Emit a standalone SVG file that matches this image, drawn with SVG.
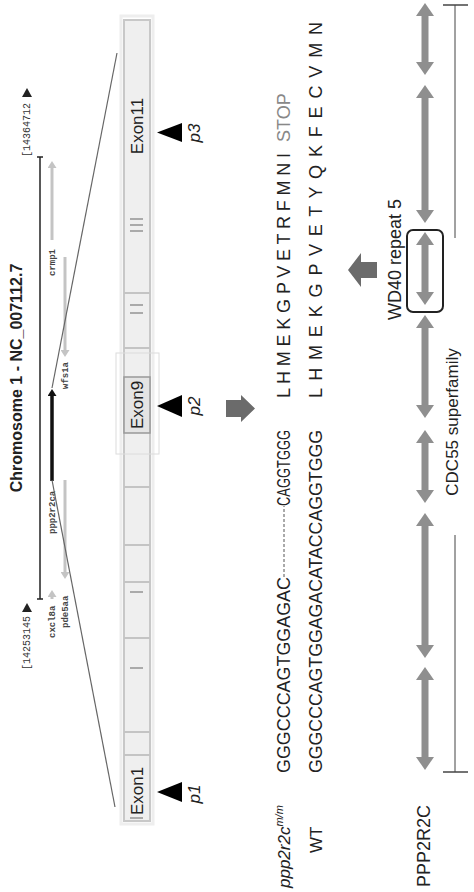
<svg xmlns="http://www.w3.org/2000/svg" width="474" height="892" viewBox="0 0 474 892">
<defs>
<style>
text{font-family:"Liberation Sans",Arial,sans-serif;fill:#222}
.mono{font-family:"Liberation Mono","DejaVu Sans Mono",monospace;font-size:10px;fill:#333}
.gl{font-family:"Liberation Mono","DejaVu Sans Mono",monospace;font-size:9px;font-weight:bold;fill:#444}
.ex{font-size:17px}
.seq{font-size:18px}
.div{stroke:#c4c4c4;stroke-width:2}
.mk{stroke:#aaa;stroke-width:2}
.dom{stroke:#8f8f8f;stroke-width:7;marker-start:url(#dh);marker-end:url(#dh)}
.thin{stroke:#666;stroke-width:1.2;fill:none}
</style>
<marker id="dh" markerUnits="userSpaceOnUse" markerWidth="14" markerHeight="18" refX="0" refY="9" orient="auto-start-reverse">
<path d="M0,0 L13,9 L0,18 z" fill="#8f8f8f"/>
</marker>
<marker id="gh" markerUnits="userSpaceOnUse" markerWidth="8" markerHeight="9" refX="0" refY="4.5" orient="auto">
<path d="M0,0 L7,4.5 L0,9 z" fill="#c4c4c4"/>
</marker>
<marker id="bh" markerUnits="userSpaceOnUse" markerWidth="8" markerHeight="9" refX="0" refY="4.5" orient="auto">
<path d="M0,0 L7,4.5 L0,9 z" fill="#111"/>
</marker>
</defs>
<rect width="474" height="892" fill="#fff"/>

<text transform="translate(22,378) rotate(-90)" text-anchor="middle" font-size="16" font-weight="bold">Chromosome 1 - NC_007112.7</text>

<g id="genome-map">
<text class="mono" transform="translate(30,157) rotate(-90)">[14364712</text>
<polygon points="22,97 32,97 27,88" fill="#222"/>
<text class="mono" transform="translate(30,670) rotate(-90)">[14253145</text>
<polygon points="22,612 32,612 27,603" fill="#222"/>
<line x1="40" y1="157" x2="40" y2="599" stroke="#222" stroke-width="1.5"/>
<line x1="37" y1="157" x2="43" y2="157" stroke="#222" stroke-width="1.5"/>
<line x1="37" y1="599" x2="43" y2="599" stroke="#222" stroke-width="1.5"/>
<g id="crmp1"><line x1="52" y1="240" x2="52" y2="168" stroke="#c4c4c4" stroke-width="3" marker-end="url(#gh)"/><text class="gl" transform="translate(55,276) rotate(-90)">crmp1</text></g>
<g id="wfs1a"><line x1="65" y1="257" x2="65" y2="350" stroke="#c4c4c4" stroke-width="3" marker-end="url(#gh)"/><text class="gl" transform="translate(68,389) rotate(-90)">wfs1a</text></g>
<g id="ppp2r2ca"><line x1="52" y1="481" x2="52" y2="396" stroke="#111" stroke-width="3.5" marker-end="url(#bh)"/><text class="gl" transform="translate(55,534) rotate(-90)">ppp2r2ca</text></g>
<g id="pde5aa"><line x1="65" y1="480" x2="65" y2="572" stroke="#c4c4c4" stroke-width="3" marker-end="url(#gh)"/><text class="gl" transform="translate(68,628) rotate(-90)">pde5aa</text></g>
<g id="cxcl8a"><line x1="52" y1="599" x2="52" y2="597" stroke="#c4c4c4" stroke-width="3" marker-end="url(#gh)"/><text class="gl" transform="translate(55,638) rotate(-90)">cxcl8a</text></g>
</g>

<g id="zoom-lines">
<line class="thin" x1="117" y1="53" x2="52" y2="388"/>
<line class="thin" x1="52" y1="480" x2="115" y2="807"/>
</g>

<g id="exon-bar">
<rect x="121" y="16" width="32" height="808" fill="none" stroke="#eeeeee" stroke-width="3"/>
<rect x="124" y="20" width="26" height="801" fill="#efefef" stroke="#c8c8c8" stroke-width="2"/>
<line class="div" x1="124" y1="293" x2="150" y2="293"/>
<line class="div" x1="124" y1="348" x2="150" y2="348"/>
<line class="div" x1="124" y1="487" x2="150" y2="487"/>
<line class="div" x1="124" y1="545" x2="150" y2="545"/>
<line class="div" x1="124" y1="582" x2="150" y2="582"/>
<line class="div" x1="124" y1="638" x2="150" y2="638"/>
<line class="div" x1="124" y1="732" x2="150" y2="732"/>
<line class="div" x1="124" y1="755" x2="150" y2="755"/>
<line class="mk" x1="130" y1="219" x2="143" y2="219"/>
<line class="mk" x1="130" y1="225" x2="143" y2="225"/>
<line class="mk" x1="130" y1="231" x2="143" y2="231"/>
<line class="mk" x1="130" y1="305" x2="143" y2="305"/>
<line class="mk" x1="130" y1="313" x2="143" y2="313"/>
<line class="mk" x1="130" y1="592" x2="143" y2="592"/>
<line class="mk" x1="130" y1="668" x2="143" y2="668"/>
<line class="mk" x1="130" y1="818" x2="143" y2="818"/>
<rect x="116" y="353" width="43" height="101" fill="none" stroke="#dcdcdc" stroke-width="1"/>
<rect x="124" y="377" width="26" height="56" fill="#e4e4e4" stroke="#999" stroke-width="1.5"/>
<text class="ex" transform="translate(143,126) rotate(-90)" text-anchor="middle">Exon11</text>
<text class="ex" transform="translate(143,405) rotate(-90)" text-anchor="middle">Exon9</text>
<text class="ex" transform="translate(143,791) rotate(-90)" text-anchor="middle">Exon1</text>
</g>

<g id="p3"><polygon points="157,132.5 182,123 182,142" fill="#000"/><text transform="translate(200,133) rotate(-90)" text-anchor="middle" font-size="17" font-style="italic">p3</text></g>
<g id="p2"><polygon points="157,406 182,395 182,417" fill="#000"/><text transform="translate(200,406) rotate(-90)" text-anchor="middle" font-size="17" font-style="italic">p2</text></g>
<g id="p1"><polygon points="157,792 182,782 182,802" fill="#000"/><text transform="translate(200,794) rotate(-90)" text-anchor="middle" font-size="17" font-style="italic">p1</text></g>

<g id="arrow-right"><polygon points="226,400 241,400 241,395 255,408.5 241,422 241,417 226,417" fill="#6b6b6b"/></g>

<g id="sequences">
<text transform="translate(290,888) rotate(-90)" font-size="17" font-style="italic">ppp2r2c<tspan font-size="11" dy="-7">m/m</tspan></text>
<text transform="translate(322,853) rotate(-90)" font-size="17">WT</text>
<text class="seq" transform="translate(290,773) rotate(-90)" textLength="196" lengthAdjust="spacingAndGlyphs">GGGCCCAGTGGAGAC</text>
<line x1="284" y1="577" x2="284" y2="506" stroke="#555" stroke-width="1" stroke-dasharray="3,2"/>
<text class="seq" transform="translate(290,506) rotate(-90)" textLength="76" lengthAdjust="spacingAndGlyphs">CAGGTGGG</text>
<text class="seq" transform="translate(322,773) rotate(-90)" textLength="343" lengthAdjust="spacingAndGlyphs">GGGCCCAGTGGAGACATACCAGGTGGG</text>
<text class="seq" transform="translate(290,398) rotate(-90)" textLength="245" lengthAdjust="spacing">L H M E K G P V E T R F M N I</text>
<text class="seq" transform="translate(290,142) rotate(-90)" fill="#888" style="fill:#888">STOP</text>
<text class="seq" transform="translate(322,398) rotate(-90)" textLength="376" lengthAdjust="spacing">L H M E K G P V E T Y Q K F E C V M N</text>
</g>

<g id="arrow-left"><polygon points="348,270 361,253 361,262 377,262 377,278 361,278 361,287" fill="#6b6b6b"/></g>

<g id="protein">
<line class="dom" x1="425" y1="16" x2="425" y2="62"/>
<line class="dom" x1="425" y1="98" x2="425" y2="210"/>
<line class="dom" x1="425" y1="245" x2="425" y2="292"/>
<line class="dom" x1="425" y1="328" x2="425" y2="405"/>
<line class="dom" x1="425" y1="443" x2="425" y2="490"/>
<line class="dom" x1="425" y1="526" x2="425" y2="645"/>
<line class="dom" x1="425" y1="680" x2="425" y2="757"/>
<rect id="wd40-box" x="407" y="230" width="36" height="82" rx="6" fill="none" stroke="#222" stroke-width="2"/>
<text transform="translate(401,320) rotate(-90)" font-size="18">WD40 repeat 5</text>
<text transform="translate(458,422) rotate(-90)" text-anchor="middle" font-size="17">CDC55 superfamily</text>
<line x1="455" y1="5" x2="455" y2="238" stroke="#444" stroke-width="1"/>
<line x1="443" y1="5" x2="468" y2="5" stroke="#444" stroke-width="1.5"/>
<line x1="455" y1="535" x2="455" y2="772" stroke="#444" stroke-width="1"/>
<line x1="443" y1="772" x2="468" y2="772" stroke="#444" stroke-width="1.5"/>
<text transform="translate(430,846) rotate(-90)" text-anchor="middle" font-size="18">PPP2R2C</text>
</g>
</svg>
